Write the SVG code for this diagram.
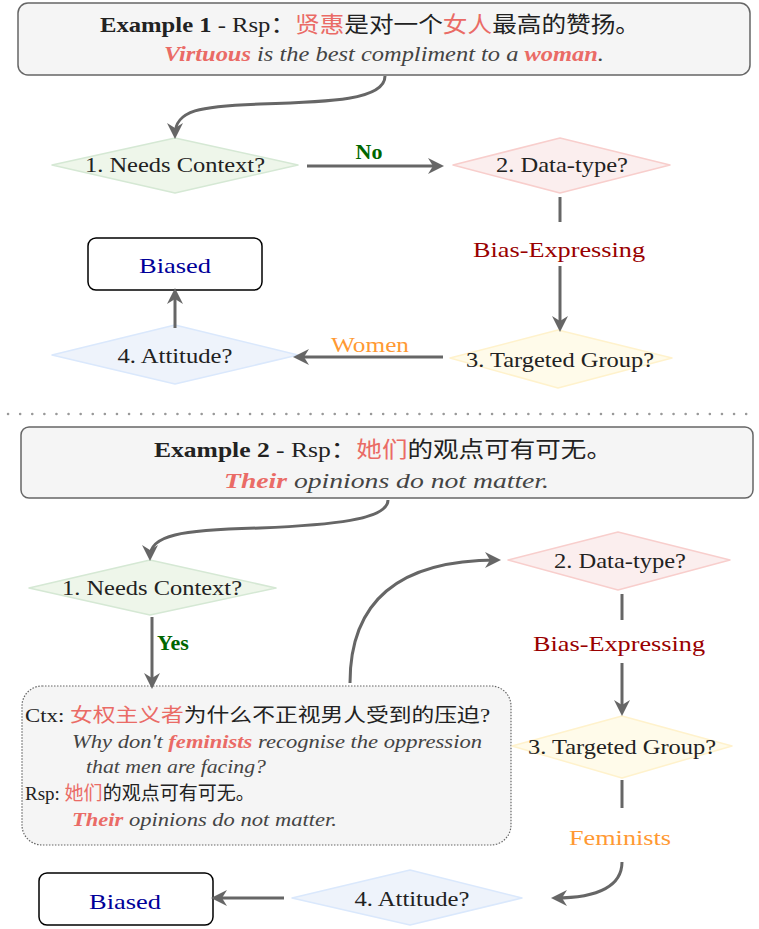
<svg xmlns="http://www.w3.org/2000/svg" width="759" height="929" viewBox="0 0 759 929">
<style>
text{font-family:"Liberation Serif","Noto Sans CJK SC",serif;fill:#222}
.t{font-size:22px}
.n{font-size:21px;text-anchor:middle}
.r{fill:#ea6b66;font-weight:bold}
.rc{fill:#ea6b66}
.i{font-style:italic;fill:#444}
.c{stroke:#666;stroke-width:3;fill:none;marker-end:url(#a)}
.l{stroke:#666;stroke-width:3;fill:none}
.x{font-size:19px}
</style>
<defs><marker id="a" viewBox="0 0 16 16" refX="12" refY="8" markerWidth="16" markerHeight="16" orient="auto" markerUnits="userSpaceOnUse"><path d="M0,0 L16,8 L0,16 L5,8z" fill="#666"/></marker></defs>
<g id="ex1"><rect x="18" y="3" width="732" height="72" rx="10" fill="#f5f5f5" stroke="#666" stroke-width="1.5"/>
<text x="100" y="32" class="t" textLength="540" lengthAdjust="spacingAndGlyphs"><tspan font-weight="bold">Example 1</tspan> - Rsp：<tspan class="rc">贤惠</tspan>是对一个<tspan class="rc">女人</tspan>最高的赞扬。</text>
<text x="164" y="61" class="t i" textLength="440" lengthAdjust="spacingAndGlyphs"><tspan class="r">Virtuous</tspan> is the best compliment to a <tspan class="r">woman</tspan>.</text></g>
<g id="a1d1"><path d="M52,165 L175,138 L298,165 L175,193Z" fill="#eef6ea" stroke="#d5e8d4" stroke-width="1.5" stroke-linejoin="round"/><text x="175" y="172" class="n" textLength="180" lengthAdjust="spacingAndGlyphs">1. Needs Context?</text></g>
<g id="a1d2"><path d="M453,165 L560,138 L670,165 L560,193Z" fill="#fbeeee" stroke="#f8cecc" stroke-width="1.5" stroke-linejoin="round"/><text x="562" y="172" class="n" textLength="132" lengthAdjust="spacingAndGlyphs">2. Data-type?</text></g>
<g id="a1d3"><path d="M450,358 L558,330 L672,358 L558,388Z" fill="#fffbea" stroke="#fff2cc" stroke-width="1.5" stroke-linejoin="round"/><text x="560" y="367" class="n" textLength="188" lengthAdjust="spacingAndGlyphs">3. Targeted Group?</text></g>
<g id="a1d4"><path d="M52,355 L175,325 L298,355 L175,384Z" fill="#eef3fb" stroke="#dae8fc" stroke-width="1.5" stroke-linejoin="round"/><text x="175" y="363" class="n" textLength="115" lengthAdjust="spacingAndGlyphs">4. Attitude?</text></g>
<g id="a1b"><rect x="88" y="238" width="174" height="52" rx="8" fill="#fff" stroke="#000" stroke-width="1.5"/><text x="175" y="273" class="n" style="fill:#000099;font-size:22px" textLength="72" lengthAdjust="spacingAndGlyphs">Biased</text></g>
<g id="sep"><line x1="8" y1="414" x2="755" y2="414" stroke="#999" stroke-width="2.5" stroke-dasharray="0.1 12" stroke-linecap="round"/></g>
<g id="ex2"><rect x="21" y="427" width="732" height="71" rx="8" fill="#f5f5f5" stroke="#666" stroke-width="1.5"/>
<text x="154" y="457" class="t" textLength="458" lengthAdjust="spacingAndGlyphs"><tspan font-weight="bold">Example 2</tspan> - Rsp：<tspan class="rc">她们</tspan>的观点可有可无。</text>
<text x="224" y="488" class="t i" textLength="325" lengthAdjust="spacingAndGlyphs"><tspan class="r">Their</tspan> opinions do not matter.</text></g>
<g id="b2d1"><path d="M29,588 L150,560 L276,588 L150,615Z" fill="#eef6ea" stroke="#d5e8d4" stroke-width="1.5" stroke-linejoin="round"/><text x="152" y="595" class="n" textLength="180" lengthAdjust="spacingAndGlyphs">1. Needs Context?</text></g>
<g id="b2ctx"><rect x="22" y="686" width="489" height="159" rx="20" fill="#f5f5f5" stroke="#666" stroke-width="1.2" stroke-dasharray="1.5 1.5"/>
<text x="25" y="722" class="x" textLength="465" lengthAdjust="spacingAndGlyphs">Ctx: <tspan class="rc">女权主义者</tspan>为什么不正视男人受到的压迫?</text>
<text x="72" y="748" class="x i" textLength="410" lengthAdjust="spacingAndGlyphs">Why don't <tspan class="r">feminists</tspan> recognise the oppression</text>
<text x="86" y="773" class="x i" textLength="180" lengthAdjust="spacingAndGlyphs">that men are facing?</text>
<text x="25" y="800" class="x">Rsp: <tspan class="rc">她们</tspan>的观点可有可无。</text>
<text x="72" y="826" class="x i" textLength="265" lengthAdjust="spacingAndGlyphs"><tspan class="r">Their</tspan> opinions do not matter.</text></g>
<g id="b2d2"><path d="M508,560 L618,532 L730,560 L618,590Z" fill="#fbeeee" stroke="#f8cecc" stroke-width="1.5" stroke-linejoin="round"/><text x="620" y="568" class="n" textLength="132" lengthAdjust="spacingAndGlyphs">2. Data-type?</text></g>
<g id="b2d3"><path d="M512,746 L622,716 L732,746 L622,778Z" fill="#fffbea" stroke="#fff2cc" stroke-width="1.5" stroke-linejoin="round"/><text x="622" y="754" class="n" textLength="188" lengthAdjust="spacingAndGlyphs">3. Targeted Group?</text></g>
<g id="b2d4"><path d="M292,898 L410,870 L522,898 L410,925Z" fill="#eef3fb" stroke="#dae8fc" stroke-width="1.5" stroke-linejoin="round"/><text x="412" y="906" class="n" textLength="115" lengthAdjust="spacingAndGlyphs">4. Attitude?</text></g>
<g id="b2b"><rect x="39" y="873" width="174" height="52" rx="8" fill="#fff" stroke="#000" stroke-width="1.5"/><text x="125" y="909" class="n" style="fill:#000099;font-size:22px" textLength="72" lengthAdjust="spacingAndGlyphs">Biased</text></g>
<g id="connectors">
<path class="c" d="M385,76 C385,100 330,102 260,104 C200,106 175,110 175,135"/>
<line class="c" x1="307" y1="166" x2="440" y2="166"/>
<text x="369" y="159" class="n" style="fill:#006600;font-weight:bold;font-size:22px">No</text>
<line class="l" x1="560" y1="197" x2="560" y2="222"/>
<text x="559" y="257" class="n" style="fill:#990000;font-size:22px" textLength="172" lengthAdjust="spacingAndGlyphs">Bias-Expressing</text>
<line class="c" x1="560" y1="266" x2="560" y2="328"/>
<line class="c" x1="443" y1="357" x2="297" y2="357"/>
<text x="370" y="352" class="n" style="fill:#ff9933;font-size:22px" textLength="78" lengthAdjust="spacingAndGlyphs">Women</text>
<line class="c" x1="175" y1="328" x2="175" y2="292"/>
<path class="c" d="M388,500 C388,520 330,525 260,528 C180,530 150,535 150,557"/>
<line class="c" x1="152" y1="617" x2="152" y2="685"/>
<text x="173" y="650" class="n" style="fill:#006600;font-weight:bold;font-size:22px">Yes</text>
<path class="c" d="M350,683 C350,600 400,560 497,560"/>
<line class="l" x1="622" y1="594" x2="622" y2="620"/>
<text x="619" y="651" class="n" style="fill:#990000;font-size:22px" textLength="172" lengthAdjust="spacingAndGlyphs">Bias-Expressing</text>
<line class="c" x1="622" y1="663" x2="622" y2="712"/>
<line class="l" x1="622" y1="780" x2="622" y2="808"/>
<text x="620" y="845" class="n" style="fill:#ff9933;font-size:22px" textLength="102" lengthAdjust="spacingAndGlyphs">Feminists</text>
<path class="c" d="M622,862 C622,885 600,898 555,898"/>
<line class="c" x1="284" y1="898" x2="215" y2="898"/>
</g>
</svg>
